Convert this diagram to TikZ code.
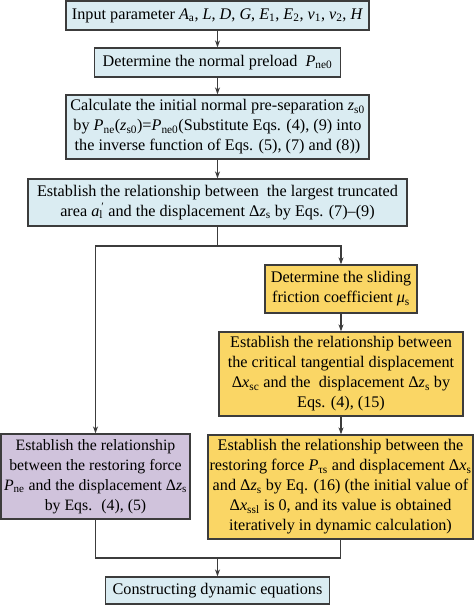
\documentclass[tikz,border=0pt]{standalone}
\usepackage{fontspec}
\setmainfont{Liberation Serif}
\usetikzlibrary{arrows.meta}
\newcommand\sbs[1]{\textsubscript{#1}}
\newcommand\iv[1]{\textit{#1}}
\definecolor{bluefill}{HTML}{DAECF2}
\definecolor{yellowfill}{HTML}{FAD665}
\definecolor{purplefill}{HTML}{D0C3DC}
\definecolor{edge}{HTML}{3C3C3C}
\tikzset{
  box/.style={draw=edge, line width=1.3pt, align=center, inner sep=0pt,
    font=\fontsize{16.2}{20}\selectfont, anchor=center},
  bluebox/.style={box, fill=bluefill},
  yellowbox/.style={box, fill=yellowfill},
  purplebox/.style={box, fill=purplefill, font=\fontsize{15.8}{20}\selectfont},
  arr/.style={draw=edge, line width=1.1pt, -{Stealth[length=7pt,width=5pt]}},
  ln/.style={draw=edge, line width=1.1pt}
}
\begin{document}
\begin{tikzpicture}[x=1pt,y=-1pt]
\useasboundingbox (0,0) rectangle (474,606);
\node[bluebox, minimum width=303pt, minimum height=29pt] (b1) at (217.5,15.5)
  {Input parameter \iv{A}\sbs{a}, \iv{L}, \iv{D}, \iv{G}, \iv{E}\sbs{1}, \iv{E}\sbs{2}, \iv{ν}\sbs{1}, \iv{ν}\sbs{2}, \iv{H}};
\node[bluebox, minimum width=246pt, minimum height=29pt] (b2) at (217.5,62.5)
  {Determine the normal preload \ \iv{P}\sbs{ne0}};
\node[bluebox, minimum width=303pt, minimum height=64pt] (b3) at (217.5,127)
  {Calculate the initial normal pre-separation \iv{z}\sbs{s0}\\
   by \iv{P}\sbs{ne}(\iv{z}\sbs{s0})=\iv{P}\sbs{ne0}(Substitute Eqs. (4), (9) into\\
   the inverse function of Eqs. (5), (7) and (8))};
\node[bluebox, minimum width=379pt, minimum height=47pt] (b4) at (217.5,202.5)
  {Establish the relationship between \ the largest truncated\\
   area \iv{a}\rlap{\sbs{l}}\textsuperscript{\,′} and the displacement Δ\iv{z}\sbs{s} by Eqs. (7)–(9)};
\node[yellowbox, minimum width=152pt, minimum height=48pt] (y1) at (341,289)
  {Determine the sliding\\ friction coefficient \iv{μ}\sbs{s}};
\node[yellowbox, minimum width=244pt, minimum height=84pt] (y2) at (341,374)
  {Establish the relationship between\\
   the critical tangential displacement\\
   Δ\iv{x}\sbs{sc} and the \ displacement Δ\iv{z}\sbs{s} by\\
   Eqs. (4), (15)};
\node[yellowbox, minimum width=265pt, minimum height=104pt] (y3) at (340.5,487)
  {Establish the relationship between the\\
   restoring force \iv{P}\sbs{τs} and displacement Δ\iv{x}\sbs{s}\\
   and Δ\iv{z}\sbs{s} by Eq. (16) (the initial value of\\
   Δ\iv{x}\sbs{ssl} is 0, and its value is obtained\\
   iteratively in dynamic calculation)};
\node[purplebox, minimum width=189pt, minimum height=85pt] (p) at (95.5,476.5)
  {Establish the relationship\\
   between the restoring force\\
   \iv{P}\sbs{ne} and the displacement Δ\iv{z}\sbs{s}\\
   by Eqs. \ (4), (5)};
\node[bluebox, minimum width=224pt, minimum height=27pt] (f) at (217.5,590.5)
  {Constructing dynamic equations};
\coordinate (split) at (217.5,246);
\coordinate (merge) at (217.5,558);
\draw[arr] (b1) -- (b2);
\draw[arr] (b2) -- (b3);
\draw[arr] (b3) -- (b4);
\draw[ln] (b4.south) -- (split);
\draw[arr] (split) -| (p.north);
\draw[arr] (split) -| (y1.north);
\draw[arr] (y1) -- (y2);
\draw[arr] (y2.south) -- (y2.south |- y3.north);
\draw[ln] (p.south) |- (merge);
\draw[ln] (y3.south) |- (merge);
\draw[arr] (merge) -- (f.north);
\end{tikzpicture}
\end{document}
